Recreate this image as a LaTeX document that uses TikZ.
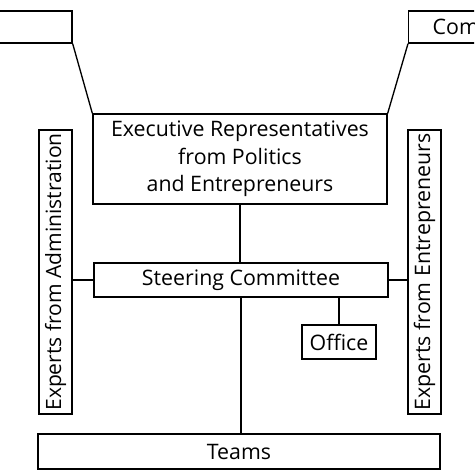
\documentclass[tikz,border=0pt]{standalone}
\usepackage{fontspec}
\setmainfont{Open Sans}
\usetikzlibrary{positioning}

\tikzset{
  orgbox/.style={draw, line width=1pt, inner sep=0pt, align=center, font=\fontsize{16}{20.6}\selectfont},
  link/.style={line width=1pt}
}

\begin{document}
\begin{tikzpicture}[x=0.75pt,y=0.75pt,yscale=-1,xscale=1]
\useasboundingbox (0,0) rectangle (474,474);
\clip (0,0) rectangle (474,474);

%Shape: Rectangle [id:council]
\node [orgbox, minimum width=99pt, minimum height=24pt] (council) at (6,27) {};
%Shape: Rectangle [id:committee]
\node [orgbox, anchor=west, minimum width=99pt, minimum height=24pt, text width=63pt, inner xsep=18pt, align=left] (committee) at (408,27) {Com};
%Shape: Rectangle [id:executive]
\node [orgbox, minimum width=220.5pt, minimum height=67.5pt] (executive) at (240,159) {Executive Representatives\\from Politics\\and Entrepreneurs};
%Shape: Rectangle [id:steering]
\node [orgbox, minimum width=220.5pt, minimum height=25.5pt] (steering) at (241,280) {Steering Committee};
%Shape: Rectangle [id:office]
\node [orgbox, minimum width=55.5pt, minimum height=25.5pt] (office) at (339,342) {Office};
%Shape: Rectangle [id:teams]
\node [orgbox, minimum width=301.5pt, minimum height=26.25pt] (teams) at (239,451.5) {Teams};
%Shape: Rectangle [id:admin]
\node [orgbox, rotate=90, minimum width=213pt, minimum height=24.75pt, font=\fontsize{15.8}{20.6}\selectfont] (admin) at (55.5,272) {Experts from Administration};
%Shape: Rectangle [id:entre]
\node [orgbox, rotate=90, minimum width=213pt, minimum height=24.75pt] (entre) at (424.5,272) {Experts from Entrepreneurs};

%Straight Lines
\draw [link] (council.south east) -- (executive.north west);
\draw [link] (committee.south west) -- (executive.north east);
\draw [link] (executive.south) -- (executive.south |- steering.north);
\draw [link] (steering.south) -- (steering.south |- teams.north);
\draw [link] (office.north) -- (office.north |- steering.south);
\draw [link] (steering.west) -- (steering.west -| admin.south);
\draw [link] (steering.east) -- (steering.east -| entre.north);

\end{tikzpicture}
\end{document}
